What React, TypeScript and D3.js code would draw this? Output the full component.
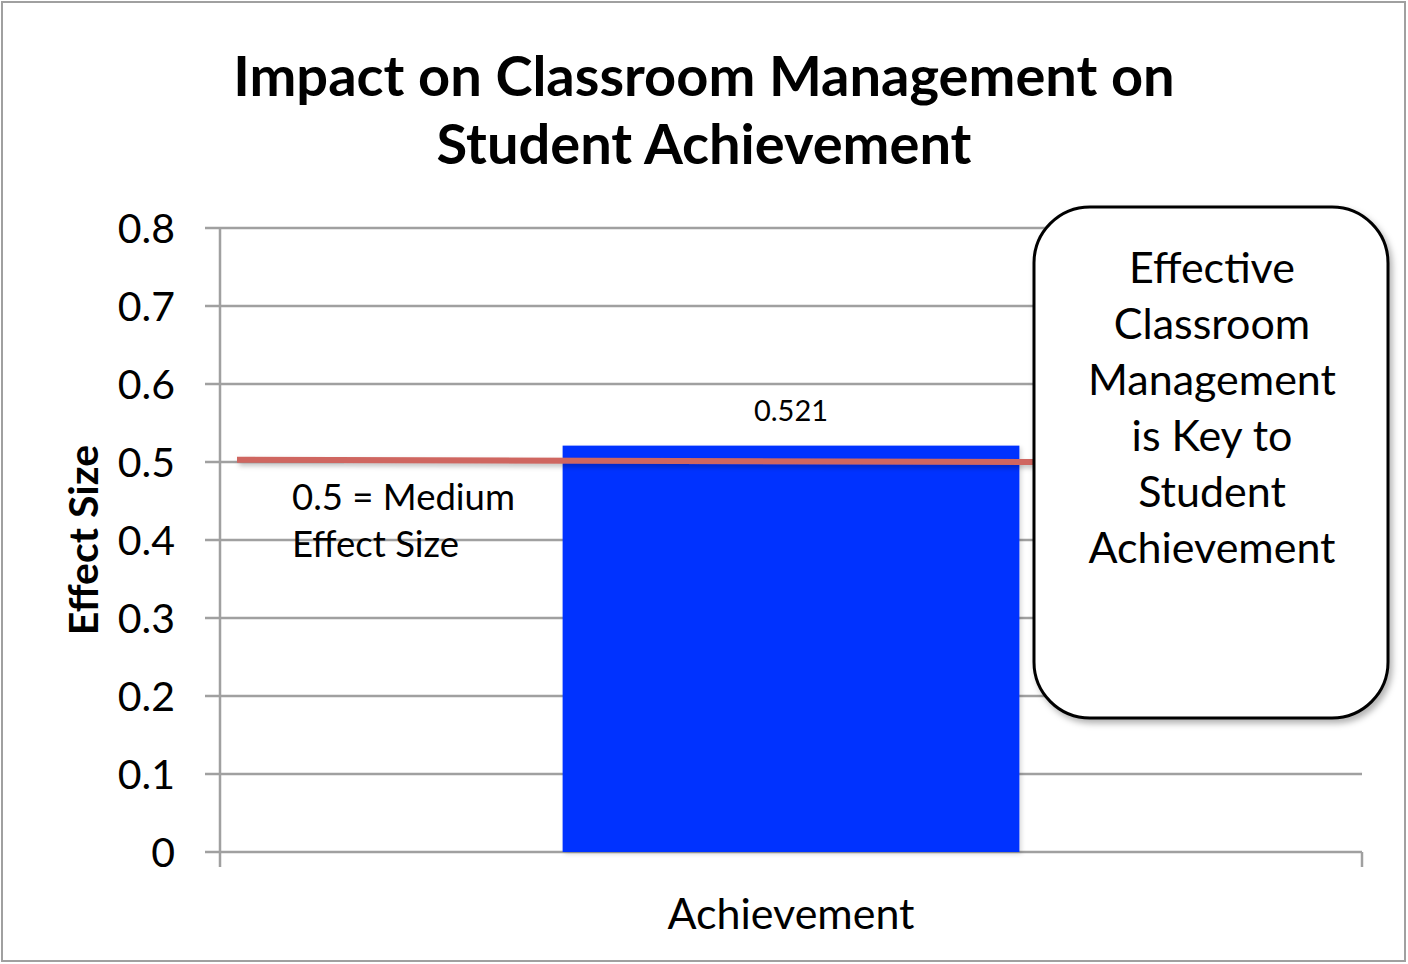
import { useEffect } from 'react';
import * as d3 from 'd3';

const categories = ['Achievement'];
const effectSizes = [0.521];
const yTicks = [0, 0.1, 0.2, 0.3, 0.4, 0.5, 0.6, 0.7, 0.8];
const mediumLine = [0.503, 0.5]; // value at start and end of the hand-drawn red line
const titleLines = ['Impact on Classroom Management on', 'Student Achievement'];
const noteLines = ['0.5 = Medium', 'Effect Size'];
const calloutLines = ['Effective', 'Classroom', 'Management', 'is Key to', 'Student', 'Achievement'];

const W = 1408;
const H = 964;
const FONT = 'Lato, "Open Sans", sans-serif';

export default function App() {
  useEffect(() => {
    document.body.style.margin = '0';
  }, []);

  const x = d3.scaleBand<string>().domain(categories).range([220, 1362]).padding(0.4286);
  const y = d3.scaleLinear().domain([0, 0.8]).range([852, 228]);
  const lineX = d3.scaleLinear().domain([0, 1]).range([237, 1040]);

  const refPath = d3.line<number>()
    .x((_, i) => lineX(i / (mediumLine.length - 1)))
    .y((d) => y(d))(mediumLine) ?? '';

  const grid = '#a0a0a0';

  return (
    <svg width={W} height={H} viewBox={`0 0 ${W} ${H}`} style={{ display: 'block', background: '#fff' }}>
      <defs>
        <filter id="soft" filterUnits="userSpaceOnUse" x="0" y="0" width={W} height={H}>
          <feDropShadow dx="3" dy="4" stdDeviation="3" floodColor="#000" floodOpacity="0.3" />
        </filter>
        <filter id="lineShadow" filterUnits="userSpaceOnUse" x="0" y="0" width={W} height={H}>
          <feDropShadow dx="2" dy="3" stdDeviation="2.5" floodColor="#000" floodOpacity="0.25" />
        </filter>
        <filter id="barShadow" filterUnits="userSpaceOnUse" x="0" y="0" width={W} height={H}>
          <feDropShadow dx="2" dy="2" stdDeviation="2" floodColor="#000" floodOpacity="0.15" />
        </filter>
      </defs>

      <rect x={2} y={2} width={W - 5} height={H - 5} fill="#fff" stroke={grid} strokeWidth={2} />

      {/* title */}
      <text x={704} textAnchor="middle" fontFamily={FONT} fontWeight={700} fontSize={56} fill="#000">
        {titleLines.map((t, i) => (
          <tspan key={t} x={704} y={96 + i * 68}>{t}</tspan>
        ))}
      </text>

      {/* gridlines + ticks */}
      {yTicks.map((t) => (
        <g key={t}>
          <line x1={205} x2={1362} y1={y(t)} y2={y(t)} stroke={grid} strokeWidth={2.5} />
          <text x={175} y={y(t)} dy="0.36em" textAnchor="end" fontFamily={FONT} fontSize={41} fill="#000">
            {d3.format('')(t)}
          </text>
        </g>
      ))}
      <line x1={220} x2={220} y1={228} y2={867} stroke={grid} strokeWidth={2.5} />
      <line x1={1362} x2={1362} y1={852} y2={867} stroke={grid} strokeWidth={2.5} />

      <text
        transform={`translate(98,540) rotate(-90)`}
        textAnchor="middle"
        fontFamily={FONT}
        fontWeight={700}
        fontSize={41}
        fill="#000"
      >
        Effect Size
      </text>

      {/* bars */}
      {categories.map((c, i) => (
        <g key={c}>
          <rect
            x={x(c)}
            y={y(effectSizes[i])}
            width={x.bandwidth()}
            height={y(0) - y(effectSizes[i])}
            fill="#0433ff"
            filter="url(#barShadow)"
          />
          <text
            x={(x(c) ?? 0) + x.bandwidth() / 2}
            y={y(effectSizes[i]) - 25}
            textAnchor="middle"
            fontFamily={FONT}
            fontSize={29}
            fill="#000"
          >
            {effectSizes[i]}
          </text>
          <text
            x={(x(c) ?? 0) + x.bandwidth() / 2}
            y={929}
            textAnchor="middle"
            fontFamily={FONT}
            fontSize={43}
            fill="#000"
          >
            {c}
          </text>
        </g>
      ))}

      {/* medium effect reference line */}
      <path d={refPath} stroke="#cf6660" strokeWidth={6} fill="none" filter="url(#lineShadow)" />
      <text fontFamily={FONT} fontSize={36.5} fill="#000">
        {noteLines.map((t, i) => (
          <tspan key={t} x={292} y={510 + i * 47}>{t}</tspan>
        ))}
      </text>

      {/* callout */}
      <rect
        x={1034}
        y={207}
        width={354}
        height={511}
        rx={56}
        ry={56}
        fill="#fff"
        stroke="#000"
        strokeWidth={3}
        filter="url(#soft)"
      />
      <text textAnchor="middle" fontFamily={FONT} fontSize={43} fill="#000">
        {calloutLines.map((t, i) => (
          <tspan key={t} x={1212} y={283 + i * 56}>{t}</tspan>
        ))}
      </text>
    </svg>
  );
}
